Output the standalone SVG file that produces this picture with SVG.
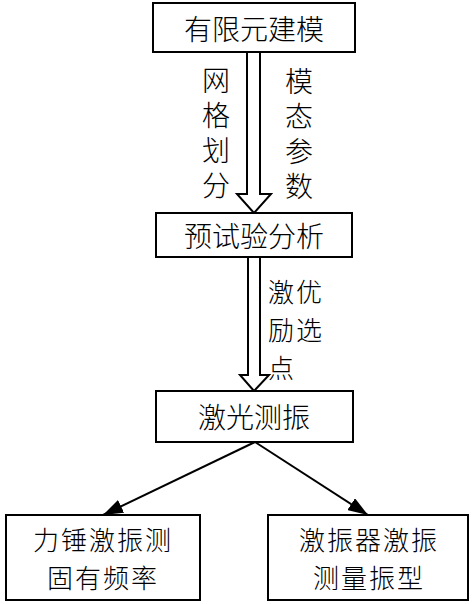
<svg xmlns="http://www.w3.org/2000/svg" width="474" height="604" viewBox="0 0 474 604">
<defs>
<style>
.box{fill:#fff;stroke:#000;stroke-width:2}
.t{font-family:"Noto Sans CJK SC","Noto Sans",sans-serif;font-size:28px;font-weight:300;fill:#000;dominant-baseline:central}
.m{font-size:26px;letter-spacing:2px}
.c{text-anchor:middle}
.v{writing-mode:vertical-rl;letter-spacing:7px;text-anchor:start}
.hollow{fill:#fff;stroke:#000;stroke-width:2;stroke-linejoin:miter}
.line{stroke:#000;stroke-width:2;fill:none}
</style>
<marker id="ah" viewBox="0 0 20 14" refX="20" refY="7" markerWidth="20" markerHeight="14" markerUnits="userSpaceOnUse" orient="auto">
<path d="M0,0 L20,7 L0,14 Z" fill="#000"/>
</marker>
</defs>
<rect width="474" height="604" fill="#fff"/>
<g id="connectors">
<path class="hollow" d="M247,52 V194 H237 L254,213 L271,194 H260 V52"/>
<path class="hollow" d="M248,257 V375 H240 L254,391 L269,375 H260 V257"/>
<line class="line" x1="255" y1="442" x2="103" y2="515" marker-end="url(#ah)"/>
<line class="line" x1="255" y1="442" x2="368" y2="515" marker-end="url(#ah)"/>
<text id="label1" class="t v" x="216" y="66">网格划分</text>
<text id="label2" class="t v" x="299" y="67">模态参数</text>
<text id="label3" class="t m" x="268" y="290">激优<tspan x="268" y="328">励选</tspan><tspan x="268" y="366">点</tspan></text>
</g>
<g id="n1">
<rect class="box" x="153" y="3" width="202" height="49"/>
<text class="t c" x="254" y="28">有限元建模</text>
</g>
<g id="n2">
<rect class="box" x="156" y="213" width="196" height="44"/>
<text class="t c" x="254" y="235">预试验分析</text>
</g>
<g id="n3">
<rect class="box" x="156" y="391" width="197" height="51"/>
<text class="t c" x="254" y="416">激光测振</text>
</g>
<g id="n4">
<rect class="box" x="6" y="515" width="194" height="85"/>
<text class="t m c" x="103" y="538">力锤激振测<tspan x="103" y="576">固有频率</tspan></text>
</g>
<g id="n5">
<rect class="box" x="268" y="515" width="200" height="85"/>
<text class="t m c" x="369" y="538">激振器激振<tspan x="369" y="576">测量振型</tspan></text>
</g>
</svg>
